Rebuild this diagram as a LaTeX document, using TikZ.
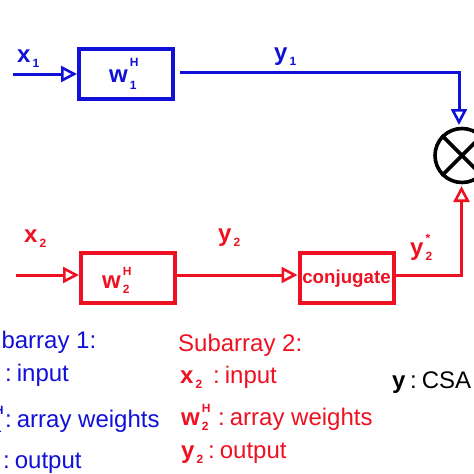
\documentclass[tikz,border=0pt]{standalone}
\usepackage{fontspec}
\setmainfont{Liberation Sans}
\usetikzlibrary{arrows.meta,positioning,calc}
\definecolor{subone}{HTML}{1010D8}
\definecolor{subtwo}{HTML}{EE1122}
\newcommand{\symb}[4][0pt]{\textbf{#2}\kern2pt\rlap{\raisebox{\dimexpr-5pt-#1\relax}{\fontsize{12}{12}\selectfont\textbf{#3}}}\raisebox{\dimexpr13pt+#1\relax}{\fontsize{12}{12}\selectfont\textbf{#4}}}
\newcommand{\symrow}[3]{\makebox[#1][l]{#2}:\kern5pt #3}

\begin{document}
\begin{tikzpicture}[
  x=1pt, y=-1pt,
  wbox/.style={rectangle, draw=#1, line width=4pt, text=#1, minimum width=94pt, minimum height=50pt, inner sep=0pt, font=\fontsize{24}{24}\selectfont},
  feed/.style={line width=3pt, draw=#1, -{Triangle[open, length=16pt, width=16pt, line width=2.6pt]}},
  lab/.style={anchor=base west, inner sep=0pt, text=#1, font=\fontsize{24}{24}\selectfont}
]
  \useasboundingbox (0,0) rectangle (474,474);
  \clip (0,0) rectangle (474,474);

  % blocks
  \node[wbox=subone] (w1) at (126,74) {};
  \node[wbox=subtwo] (w2) at (128,278) {};
  \node[wbox=subtwo] (conj) at (346.5,278) {};
  \node[circle, draw, line width=3.6pt, minimum size=54pt, inner sep=0pt] (mix) at (462,155.5) {};
  \draw[line width=3.6pt] (mix.north west) -- (mix.south east);
  \draw[line width=3.6pt] (mix.north east) -- (mix.south west);

  % block texts
  \node[lab=subone] (w1txt) at (109,82) {\symb[2.5pt]{w}{1}{H}};
  \node[lab=subtwo] (w2txt) at (102,288) {\symb{w}{2}{H}};
  \node[anchor=base, inner sep=0pt, text=subtwo, font=\fontsize{18.7}{18.7}\selectfont\bfseries] (conjtxt) at (346.5,283) {conjugate};

  % free ends
  \coordinate (x1in) at (13,74);
  \coordinate (x2in) at (16,275);
  \coordinate (y1out) at (180,72);
  \coordinate (y1end) at (459,125);
  \coordinate (y2end) at (461.5,186);
  \coordinate (w1in) at (w1.west |- x1in);
  \coordinate (w2in) at (w2.west |- x2in);
  \coordinate (conjin) at (conj.west |- x2in);
  \coordinate (w2out) at (w2.east |- x2in);
  \coordinate (conjout) at (conj.east |- x2in);

  % connectors
  \draw[feed=subone] (x1in) -- (w1in);
  \draw[feed=subone] (y1out) -| (y1end);
  \draw[feed=subtwo] (x2in) -- (w2in);
  \draw[feed=subtwo] (w2out) -- (conjin);
  \draw[feed=subtwo] (conjout) -| (y2end);

  % signal labels
  \node[lab=subone] (x1lab) at (17,62) {\symb{x}{1}{}};
  \node[lab=subone] (y1lab) at (274,60) {\symb{y}{1}{}};
  \node[lab=subtwo] (x2lab) at (24,242) {\symb{x}{2}{}};
  \node[lab=subtwo] (y2lab) at (218,241) {\symb{y}{2}{}};
  \node[lab=subtwo] (y2star) at (410,255) {\symb{y}{2}{*}};

  % legend, subarray 1
  \node[lab=subone] (head1) at (-28,348) {Subarray 1:};
  \node[lab=subone] (row1a) at (-28,381) {\symrow{33pt}{\symb{x}{1}{}}{input}};
  \node[lab=subone] (row1b) at (-26,427) {\symrow{31pt}{\symb{w}{1}{H}}{array weights}};
  \node[lab=subone] (row1c) at (-28,468) {\symrow{31pt}{\symb{y}{1}{}}{output}};

  % legend, subarray 2
  \node[lab=subtwo] (head2) at (178,351) {Subarray 2:};
  \node[lab=subtwo] (row2a) at (180,383) {\symrow{33pt}{\symb{x}{2}{}}{input}};
  \node[lab=subtwo] (row2b) at (181,425) {\symrow{37pt}{\symb{w}{2}{H}}{array weights}};
  \node[lab=subtwo] (row2c) at (181,458) {\symrow{27pt}{\symb{y}{2}{}}{output}};

  \node[lab=black] (csa) at (392,388) {\symrow{18pt}{\textbf{y}}{CSA}};
\end{tikzpicture}
\end{document}
